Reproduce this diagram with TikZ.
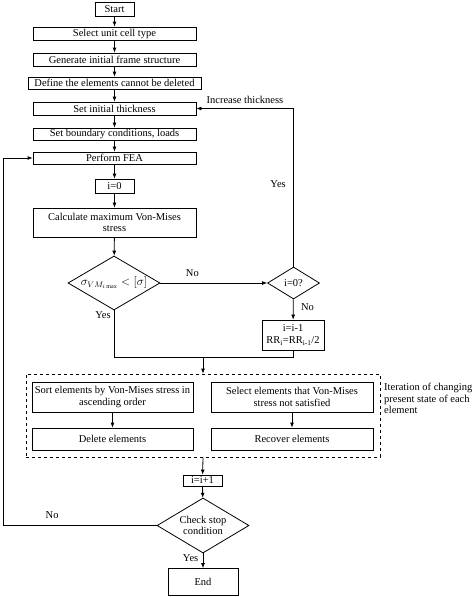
\documentclass[tikz,border=0pt]{standalone}
\usepackage{fontspec}
\setmainfont{Liberation Serif}
\usetikzlibrary{shapes.geometric,arrows.meta}

\begin{document}
\begin{tikzpicture}[x=1pt, y=-1pt,
    font=\fontsize{10.5}{11.5}\selectfont,
    box/.style={draw, line width=0.8pt, inner sep=1pt, minimum height=13pt},
    choice/.style={draw, diamond, line width=0.8pt, inner sep=0pt, aspect=1.7, align=center},
    line/.style={line width=0.8pt},
    arr/.style={line width=0.8pt, -{Latex[length=5pt,width=4pt]}}]
    \useasboundingbox (0,0) rectangle (474,597);

    % Set up of the model
    \node[box, minimum width=39pt, minimum height=14pt] (start) at (114.5,9) {Start};
    \node[box, minimum width=163pt] (cell) at (114.5,33.5) {Select unit cell type};
    \node[box, minimum width=163pt] (frame) at (114.5,59.5) {Generate initial frame structure};
    \node[box, minimum width=173pt, minimum height=12pt] (keep) at (114.5,83) {Define the elements cannot be deleted};
    \node[box, minimum width=163pt] (thick) at (114.5,108.5) {Set initial thickness};
    \node[box, minimum width=163pt, minimum height=12pt] (loads) at (114.5,134) {Set boundary conditions, loads};
    \node[box, minimum width=163pt, minimum height=12pt] (fea) at (114.5,158) {Perform FEA};
    \node[box, minimum width=39pt, minimum height=14pt] (izero) at (114.5,186) {i=0};
    \node[box, minimum width=163pt, minimum height=29pt, align=center] (calc) at (114.5,222.5)
        {Calculate maximum Von-Mises\\stress};

    % Stress check
    \node[choice, minimum width=92pt, minimum height=54pt, aspect=2] (stress) at (114,283)
        {\large$\sigma_{VM_{i\max}} < [\sigma]$};
    \node[choice, minimum width=52pt, minimum height=32pt] (first) at (293.5,283) {i=0?};
    \node[box, minimum width=62pt, minimum height=30pt, align=center] (halve) at (293,335)
        {i=i-1\\RR\textsubscript{i}=RR\textsubscript{i-1}/2};
    \coordinate (merge) at (203,357);

    % Iteration
    \node[draw, dashed, line width=0.8pt, minimum width=354pt, minimum height=83pt] (iter) at (203,415.5) {};
    \node[box, minimum width=161pt, minimum height=30pt, align=center] (sort) at (112.5,397)
        {Sort elements by Von-Mises stress in\\ascending order};
    \node[box, minimum width=162pt, minimum height=30pt, align=center] (pick) at (292,397)
        {Select elements that Von-Mises\\stress not satisfied};
    \node[box, minimum width=161pt, minimum height=22pt] (delete) at (112.5,439) {Delete elements};
    \node[box, minimum width=162pt, minimum height=22pt] (recover) at (292,439) {Recover elements};
    \node[anchor=north west, align=left, inner sep=0pt] (note) at (384,383)
        {Iteration of changing\\present state of each\\element};

    % Stop check
    \node[box, minimum width=39pt, minimum height=11pt] (inc) at (202.5,480.5) {i=i+1};
    \node[choice, minimum width=92pt, minimum height=55pt] (stop) at (203,525.5) {Check stop\\condition};
    \node[box, minimum width=70pt, minimum height=27pt] (end) at (203,582) {End};
    \coordinate (back) at (3,525.5);

    % Arrows
    \draw[arr] (start) -- (cell);
    \draw[arr] (cell) -- (frame);
    \draw[arr] (frame) -- (keep);
    \draw[arr] (keep) -- (thick);
    \draw[arr] (thick) -- (loads);
    \draw[arr] (loads) -- (fea);
    \draw[arr] (fea) -- (izero);
    \draw[arr] (izero) -- (calc);
    \draw[arr] (calc) -- (stress);
    \draw[arr] (stress) -- node[above=3pt, pos=0.3] {No} (first);
    \draw[arr] (first.north) |- node[pos=0.26, left=4pt] {Yes} node[pos=0.75, above=1pt] {Increase thickness} (thick.east);
    \draw[arr] (first) -- node[right=4pt, pos=0.4] {No} (halve);
    \draw[line] (stress.south) node[anchor=north east, inner sep=1pt, xshift=-2pt] {Yes} |- (merge);
    \draw[line] (halve.south) |- (merge);
    \draw[arr] (merge) -- (iter.north);
    \draw[arr] (sort) -- (delete);
    \draw[arr] (pick) -- (recover);
    \draw[arr] (iter.south) -- (inc);
    \draw[arr] (inc) -- (stop);
    \draw[arr] (stop) -- node[left=1pt, pos=0.3] {Yes} (end);
    \draw[arr] (stop.west) -- node[above=3pt, pos=0.68] {No} (back) |- (fea.west);
\end{tikzpicture}
\end{document}
